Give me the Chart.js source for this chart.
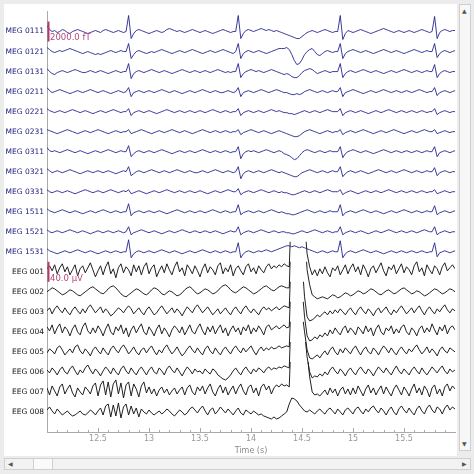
<!DOCTYPE html>
<html><head><meta charset="utf-8">
<script src="https://cdn.jsdelivr.net/npm/chart.js@4/dist/chart.umd.min.js"></script>
<style>
html,body{margin:0;padding:0;width:474px;height:474px;overflow:hidden;background:#ececec;font-family:"DejaVu Sans",sans-serif}
#wrap{position:absolute;left:4px;top:4px;width:453px;height:452px;background:#fff}
#wrap canvas{display:block}
.vs{position:absolute;left:459px;top:4px;width:12px;height:447px;background:#f7f7f7;border:1px solid #cfcfcf;box-sizing:border-box}
.hs{position:absolute;left:4px;top:458px;width:467px;height:12px;background:#f2f2f2;border:1px solid #cfcfcf;box-sizing:border-box}
.th{position:absolute;left:28px;top:0px;width:18px;height:10px;background:#fafafa;border-left:1px solid #cfcfcf;border-right:1px solid #cfcfcf}
.ar{position:absolute;font-size:6px;color:#555;line-height:6px}
</style>
</head><body>
<div id="wrap"><canvas id="c" width="453" height="452"></canvas></div>
<div class="vs"><div class="ar" style="left:2px;top:3px">&#9650;</div><div class="ar" style="left:2px;top:436px">&#9660;</div></div>
<div class="hs"><div class="ar" style="left:3px;top:2px">&#9664;</div><div class="th"></div><div class="ar" style="left:457px;top:2px">&#9654;</div></div>
<script>
// sample grid (s)
const times = [];
for (let j = 0; j < 161; j++) times.push(+(12 + 0.025 * j).toFixed(3));
const xTicks = [12.5, 13, 13.5, 14, 14.5, 15, 15.5];

const channelNames = ['MEG 0111','MEG 0121','MEG 0131','MEG 0211','MEG 0221','MEG 0231','MEG 0311','MEG 0321','MEG 0331','MEG 1511','MEG 1521','MEG 1531','EEG 001','EEG 002','EEG 003','EEG 004','EEG 005','EEG 006','EEG 007','EEG 008'];

// MEG, fT
const meg0111 = [600,200,0,100,-100,0,200,100,-100,-200,0,100,200,100,0,-100,-200,-100,0,100,
0,-100,100,200,100,0,-100,0,100,0,-100,0,1600,-700,-200,100,200,100,0,-100,
-200,-100,0,100,0,-100,0,200,300,200,100,0,100,0,-100,0,100,200,100,0,
-100,0,100,0,-100,-200,-100,0,100,200,100,0,-100,0,0,1600,-700,-200,100,200,
100,0,100,200,300,200,100,200,100,0,100,0,-100,-200,-300,-400,-500,-600,-700,-700,
-500,-300,-100,0,100,0,-100,0,100,200,100,0,-100,0,0,1600,-800,-200,100,0,
-100,0,100,200,100,0,-100,-200,-100,0,100,200,300,200,100,0,-100,0,100,0,
-100,0,100,0,-100,0,100,200,100,0,-100,0,1500,-700,-100,100,200,100,0,100,
100];
const meg0121 = [400,200,0,-100,0,100,0,100,200,300,200,100,0,-100,-200,-100,0,-100,-200,-300,
-200,-300,-200,-100,0,100,0,-100,0,100,0,0,800,-700,-300,0,100,0,-100,-200,
-100,0,-100,0,100,200,100,0,-100,-200,-100,0,100,0,-100,0,100,200,100,0,
-100,-200,-100,0,100,0,-100,0,100,200,100,0,-100,-200,0,800,-700,-200,0,100,
0,-100,0,100,0,-100,-200,-100,0,100,200,300,300,300,400,200,-300,-900,-1300,-1200,
-800,-300,0,200,300,0,-300,-400,-200,0,100,0,-100,0,0,800,-700,-200,0,100,
200,100,0,-100,0,100,0,-100,-200,-100,0,100,200,100,0,-100,0,100,0,-100,
-200,-100,0,100,200,100,0,-100,0,100,0,0,800,-600,-200,0,100,0,-100,0,
100];
const meg0131 = [300,0,-200,-300,-100,0,100,0,-100,0,100,200,100,0,-100,-100,0,100,0,-100,
0,100,0,-100,-200,-100,0,100,0,-100,0,0,800,-700,-200,0,100,0,-100,0,
100,200,100,0,-100,0,100,0,-100,-200,-100,0,100,200,100,0,-100,0,100,0,
-100,0,100,0,-100,0,100,200,100,0,-100,0,-100,0,0,800,-600,-200,0,100,
200,100,0,100,0,-100,0,100,200,100,0,-100,-200,-300,-200,-300,-500,-600,-600,-400,
-100,100,200,300,200,0,-200,-100,0,100,0,-100,0,0,0,800,-600,-200,0,100,
0,-100,0,100,200,100,0,-100,0,100,0,-100,-200,-100,0,100,0,-100,0,100,
200,100,0,-100,0,100,0,-100,0,100,0,0,700,-600,-200,0,100,0,-100,0,
0];
const meg0211 = [400,100,-100,0,100,200,100,0,-100,-200,-100,0,100,0,-100,0,100,200,100,0,
-100,0,100,0,-100,-200,-100,0,100,0,-100,0,400,-500,-100,0,100,0,-100,0,
100,0,-100,0,100,200,100,0,-100,0,100,0,-100,-200,-100,0,100,0,-100,0,
100,200,100,0,-100,0,100,0,-100,-100,0,100,0,-100,0,400,-500,-100,0,100,
0,-100,0,100,200,100,0,-100,0,100,200,100,0,-100,-100,-200,-300,-300,-200,-300,
-200,0,100,200,100,0,-100,0,100,0,-100,0,100,0,0,400,-500,-100,0,100,
200,100,0,-100,-200,-100,0,100,0,-100,0,100,200,100,0,-100,0,100,0,-100,
0,100,0,-100,0,100,200,100,0,-100,0,0,400,-400,-100,0,100,0,-100,0,
100];
const meg0221 = [300,100,0,-100,0,100,0,-100,0,100,200,100,0,-100,0,100,0,-100,-200,-100,
0,100,0,-100,0,100,200,100,0,-100,0,0,300,-400,-100,0,100,0,-100,0,
100,0,-100,-200,-100,0,100,200,100,0,-100,0,100,0,-100,0,100,0,-100,0,
100,0,-100,0,100,200,100,0,-100,0,100,0,-100,0,0,300,-400,-100,0,100,
0,-100,0,100,0,-100,0,100,200,100,0,100,0,-100,-100,-200,-200,-300,-200,-100,
0,100,0,-100,0,100,0,-100,0,100,200,100,0,0,0,300,-400,-100,0,100,
0,-100,0,100,0,-100,-200,-100,0,100,0,-100,0,100,200,100,0,-100,0,100,
0,-100,0,100,0,-100,0,100,0,-100,0,0,300,-300,-100,0,100,0,-100,0,
0];
const meg0231 = [200,100,0,-100,-200,-100,0,100,200,100,0,-100,-200,-100,0,100,0,-100,0,100,
200,100,0,-100,-200,-100,0,100,0,-100,0,0,200,-200,-100,0,100,200,100,0,
-100,-200,-100,0,100,0,-100,0,100,200,100,0,-100,0,100,0,-100,-200,-100,0,
100,200,100,0,-100,0,100,0,-100,0,100,0,-100,0,0,200,-300,-100,0,100,
200,100,0,-100,0,100,0,-100,-200,-100,0,100,0,-100,-200,-300,-400,-500,-500,-400,
-200,0,100,200,100,0,-100,-200,-100,0,100,0,-100,0,0,200,-300,-100,0,100,
0,-100,0,100,200,100,0,-100,-200,-100,0,100,0,-100,0,100,200,100,0,-100,
-200,-100,0,100,0,-100,0,100,200,100,0,0,200,-200,-100,0,100,0,-100,0,
0];
const meg0311 = [400,100,0,100,0,-100,0,100,200,100,0,-100,0,100,0,-100,-200,-100,0,100,
0,-100,0,100,200,100,0,-100,0,100,0,0,600,-500,-200,0,100,0,-100,0,
100,0,-100,0,100,200,100,0,-100,-200,-100,0,100,0,-100,0,100,0,-100,0,
100,200,100,0,-100,0,100,0,-100,0,100,0,-100,0,0,500,-700,-200,0,100,
0,100,0,-100,0,100,200,100,0,-100,0,100,0,-200,-300,-400,-600,-800,-700,-400,
-100,100,200,100,0,-100,0,100,0,-100,0,100,0,0,0,500,-600,-200,0,100,
200,100,0,-100,0,100,0,-100,-200,-100,0,100,200,100,0,-100,0,100,0,-100,
0,100,0,-100,0,100,0,-100,0,100,0,0,500,-500,-100,0,100,0,-100,0,
100];
const meg0321 = [300,100,-100,0,100,0,-100,0,100,200,100,0,-100,-200,-100,0,100,0,-100,0,
100,0,-100,0,100,0,-100,-200,-100,0,100,0,500,-400,-200,0,100,0,-100,0,
100,200,100,0,-100,0,100,0,-100,0,100,200,100,0,-100,0,100,0,-100,-100,
0,100,0,-100,0,100,200,100,0,-100,0,100,0,-100,0,500,-700,-200,0,100,
0,-100,0,100,0,-100,0,100,200,100,0,-100,0,-100,-200,-300,-400,-500,-500,-300,
-100,0,100,200,100,0,-100,0,100,0,-100,0,100,0,0,500,-500,-200,0,100,
0,-100,0,100,0,-100,-200,-100,0,100,200,100,0,-100,0,100,0,-100,0,100,
200,100,0,-100,0,100,0,-100,0,100,0,0,400,-400,-100,0,100,0,-100,0,
0];
const meg0331 = [200,0,-100,0,100,0,-100,0,100,0,-100,-200,-100,0,100,200,100,0,-100,0,
100,0,-100,0,100,200,100,0,-100,0,100,0,200,-200,-100,0,100,0,-100,-200,
-100,0,100,0,-100,0,100,200,100,0,-100,0,100,0,-100,0,100,0,-100,0,
100,0,-100,-200,-100,0,100,0,-100,0,100,200,100,0,0,300,-300,-100,0,100,
0,-100,0,100,200,100,0,-100,0,100,0,-100,0,-100,-100,-200,-300,-300,-200,-100,
0,100,0,-100,0,100,0,-100,0,100,200,100,0,0,0,200,-300,-100,0,100,
0,-100,-200,-100,0,100,0,-100,0,100,0,-100,0,100,200,100,0,-100,0,100,
0,-100,0,100,0,-100,0,100,0,-100,0,0,200,-200,-100,0,100,0,-100,0,
0];
const meg1511 = [300,100,0,-100,0,100,200,100,0,-100,0,100,0,-100,-200,-100,0,100,0,-100,
0,100,200,100,0,-100,0,100,0,-100,0,0,800,-400,-100,0,100,0,-100,0,
100,0,-100,0,100,0,-100,-200,-100,0,100,200,100,0,-100,0,100,0,-100,0,
100,0,-100,0,100,200,100,0,-100,0,100,0,-100,0,0,700,-300,-100,0,100,
0,-100,0,100,0,-100,0,100,200,100,0,-100,0,-100,-200,-200,-300,-300,-200,-100,
0,100,200,100,0,-100,0,100,0,-100,0,100,0,0,0,700,-400,-100,0,100,
0,-100,0,100,200,100,0,-100,0,100,0,-100,-200,-100,0,100,0,-100,0,100,
200,100,0,-100,0,100,0,-100,0,100,0,0,600,-300,-100,0,100,0,-100,0,
100];
const meg1521 = [200,0,-100,0,100,0,-100,0,100,200,100,0,-100,0,100,0,-100,-200,-100,0,
100,0,-100,0,100,0,-100,0,100,0,-100,0,500,-300,-100,0,100,200,100,0,
-100,0,100,0,-100,-200,-100,0,100,0,-100,0,100,200,100,0,-100,0,100,0,
-100,0,100,0,-100,0,100,0,-100,-200,-100,0,100,0,0,500,-300,-100,0,100,
0,-100,0,100,200,100,0,-100,0,100,0,-100,0,0,-100,-100,-200,-200,-100,0,
100,0,-100,0,100,200,100,0,-100,0,100,0,-100,0,0,500,-300,-100,0,100,
0,-100,0,100,0,-100,-200,-100,0,100,0,-100,0,100,200,100,0,-100,0,100,
0,-100,0,100,0,-100,0,100,200,100,0,0,500,-300,-100,0,100,0,-100,0,
0];
const meg1531 = [300,100,0,-100,-200,-100,0,100,0,-100,0,100,200,100,0,-100,0,100,0,-100,
-200,-100,0,100,0,-100,0,100,0,-100,0,0,1200,-600,-200,0,100,0,-100,0,
100,0,-100,0,100,200,100,0,-100,0,100,0,-100,-200,-100,0,100,0,-100,0,
100,200,100,0,-100,0,100,0,-100,0,100,0,-100,0,0,900,-600,-200,0,100,
0,-100,0,100,0,100,200,100,0,100,200,300,400,500,600,600,500,600,500,400,
500,400,300,200,100,0,-100,0,100,0,-100,0,100,0,0,1100,-600,-200,0,100,
0,-100,0,100,200,100,0,-100,0,100,0,-100,-200,-100,0,100,0,-100,0,100,
0,-100,0,100,0,-100,0,100,0,-100,0,0,900,-500,-100,0,100,0,-100,0,
100];

// EEG, µV
const eeg001 = [6,12,2,14,-4,8,16,0,10,-6,4,14,-8,6,12,-2,8,18,4,-10,
2,12,-6,10,20,-4,6,-12,8,16,-2,10,4,-8,14,0,12,-6,10,18,
-4,8,14,-10,2,12,-2,16,4,-6,10,20,0,8,-8,14,6,-4,12,2,
-10,6,16,-2,10,4,-6,12,18,-4,8,0,14,-8,6,12,2,-6,10,16,
0,8,-4,12,4,-2,10,16,6,12,8,14,10,16,12,10,150,160,160,150,
130,100,36,10,-6,4,-8,6,-4,10,-2,-10,8,2,12,-6,4,14,-4,8,
16,0,10,-6,14,4,-10,6,12,-2,8,18,2,-8,10,4,14,-4,6,16,
-2,10,4,-6,12,20,0,8,-8,14,4,-4,12,6,-6,10,18,2,8,14,
6];
const eeg002 = [0,4,8,6,2,-2,-6,-4,0,4,2,-2,-6,-8,-4,0,4,8,10,6,
2,-2,-4,0,6,10,12,8,2,-4,-8,-10,-6,-2,2,6,4,0,-4,-6,
-2,4,8,6,2,-4,-6,-2,2,0,-4,-8,-6,-2,4,8,10,6,0,-4,
-2,2,6,4,0,-4,-2,2,8,12,14,10,4,0,-2,2,6,10,8,4,
0,-4,-2,2,6,10,12,8,4,2,6,10,12,10,8,8,160,170,170,160,
140,120,44,14,-6,-10,-14,-12,-10,-12,-14,-10,-6,-8,-12,-10,-6,-2,-4,-8,
-6,-2,2,0,-4,-2,2,6,4,0,-4,-6,-2,2,4,0,-4,-2,2,6,
8,4,0,-4,-2,2,0,-4,-8,-6,-2,2,6,4,0,-4,-2,2,6,4,
0];
const eeg003 = [2,8,-4,6,12,4,-2,8,0,-6,4,10,2,-4,6,-2,8,14,6,-2,
4,10,-2,6,0,-8,-4,2,8,4,-2,6,12,6,-4,2,8,0,-6,4,
10,2,-6,-2,6,12,4,-4,2,8,-2,6,0,-8,2,10,4,-2,8,14,
6,-2,4,10,2,-6,0,6,-4,2,8,0,-6,4,10,2,-4,6,12,4,
-2,6,0,-6,4,10,4,8,2,6,10,4,8,12,10,8,150,160,160,150,
100,30,-10,-18,-16,-12,-6,-10,-4,0,-6,2,-4,4,-2,6,0,-6,2,8,
0,-6,4,10,2,-4,6,0,-8,2,8,-2,4,10,0,-6,4,-2,6,12,
4,-4,2,8,-2,6,12,2,-6,4,10,2,-4,6,0,8,14,4,-2,6,
2];
const eeg004 = [10,2,14,-4,8,16,-2,10,4,-8,6,14,0,-6,10,18,2,-4,8,-2,
12,4,-8,6,16,0,-6,10,2,14,-4,8,-10,4,12,-2,8,16,0,-6,
10,2,-8,6,14,-4,8,0,-10,4,12,6,-2,10,-6,4,14,0,-4,8,
16,2,-6,10,0,12,-4,6,14,-2,8,-8,4,12,0,8,-6,10,2,14,
-4,8,0,12,4,-6,10,14,4,8,12,6,10,14,8,10,150,160,160,150,
90,30,-8,-18,-16,-10,-14,-6,-10,-2,-8,4,-4,8,0,-6,6,12,-2,8,
2,-6,10,4,-4,12,0,8,-8,6,14,0,-6,8,2,12,-4,6,-2,10,
14,0,-6,8,2,-8,6,12,-2,8,0,16,4,-6,10,2,14,-4,8,12,
4];
const eeg005 = [-2,6,2,-4,8,12,4,-6,0,6,-2,10,14,2,-4,6,0,-8,4,10,
2,-4,8,0,-6,6,12,4,-2,8,14,6,-4,2,10,0,-6,4,8,-2,
6,12,2,-6,4,-2,8,14,4,-4,2,10,0,-8,-2,6,12,4,-2,8,
0,-6,6,12,2,-4,8,0,-6,4,10,2,-4,6,12,4,-2,8,0,6,
12,2,-6,4,10,2,8,4,10,6,8,12,8,10,12,10,140,150,150,140,
80,40,4,-12,-14,-10,-6,-12,-4,2,-6,4,10,0,-6,6,-2,8,2,-4,
6,12,2,-6,4,10,0,-4,8,2,-6,4,12,6,-2,8,0,-6,4,10,
2,-4,6,0,8,14,4,-4,2,10,-2,6,0,-8,4,10,2,-2,8,4,
0];
const eeg006 = [4,-2,8,2,-6,4,10,0,-4,6,12,2,-6,4,-2,8,14,4,-4,6,
0,-8,2,10,4,-4,8,0,-6,6,12,2,-4,8,0,-6,4,10,2,-6,
4,10,0,-4,8,2,-6,6,12,4,-2,8,0,-8,2,10,4,-4,6,0,
2,-4,6,0,-4,6,2,-6,-10,-14,-16,-12,-6,2,8,0,-6,4,10,2,
-4,6,0,8,4,-2,6,10,4,8,6,10,8,12,10,8,150,160,160,150,
140,80,30,0,-12,-8,-10,-4,-8,0,-6,4,10,2,-4,6,0,-8,2,8,
0,-6,4,10,2,-4,6,0,-8,2,10,4,-2,8,0,-6,4,12,2,-4,
6,0,-6,4,10,2,-4,8,0,-6,2,10,4,-2,6,12,2,-4,6,0,
4];
const eeg007 = [8,-6,12,2,-8,10,16,-4,6,14,-2,-10,8,0,-6,10,4,-4,12,18,
-8,14,22,-6,20,-10,16,24,-4,18,-12,14,20,-8,16,6,-10,12,20,-2,
10,-4,6,-8,4,10,-2,6,-6,2,8,-4,4,10,-6,8,14,0,-6,10,
2,12,-4,8,16,0,-8,6,14,-2,10,-6,4,12,-4,8,16,2,-6,10,
14,-2,8,-8,10,16,4,12,-4,8,14,10,16,12,14,10,150,160,160,150,
150,140,80,30,0,-6,-4,-8,-2,4,-6,8,-2,6,-8,4,10,-4,6,-6,
8,-4,12,2,-8,6,14,-2,8,-6,4,12,-4,10,0,-8,6,14,4,-6,
10,2,-8,6,16,-2,8,-6,12,4,-10,8,14,-4,6,-8,10,16,2,12,
6];
const eeg008 = [4,10,2,-4,6,0,-6,-2,2,-4,-8,-6,-2,2,-4,-6,-2,4,0,-6,
2,8,-6,12,16,-10,14,-8,18,-12,10,16,-6,12,-4,8,-10,6,0,-4,
4,-2,-6,-2,2,-4,0,6,2,-4,-8,-2,4,0,-6,-2,6,10,4,-2,
6,12,2,-6,4,8,-4,2,10,4,-2,6,0,-6,2,8,-2,-6,4,0,
-4,2,-2,-6,-4,-8,-10,-12,-14,-10,-14,-12,-8,-4,0,16,28,26,22,14,
8,2,0,4,0,-4,2,6,0,-4,4,8,2,-4,6,0,-6,4,8,2,
-4,6,10,2,-4,6,0,8,12,4,-2,8,2,-6,4,10,0,-6,6,12,
4,-2,8,0,-6,6,12,2,-4,8,14,4,-2,10,6,-4,8,14,4,10,
6];

const series = [meg0111,meg0121,meg0131,meg0211,meg0221,meg0231,meg0311,meg0321,meg0331,meg1511,meg1521,meg1531,
                eeg001,eeg002,eeg003,eeg004,eeg005,eeg006,eeg007,eeg008];
const MEG_SCALE = 2000;  // fT per channel spacing
const EEG_SCALE = 40;    // µV per channel spacing
const MEG_COLOR = '#24248e', EEG_COLOR = '#151515';

const datasets = series.map((vals, i) => {
  const isMeg = i < 12;
  const sc = isMeg ? MEG_SCALE : EEG_SCALE;
  const off = i + 1;
  return {
    label: channelNames[i],
    off: off,
    data: times.map((t, j) => ({x: t, y: off - vals[j] / sc})),
    borderColor: isMeg ? MEG_COLOR : EEG_COLOR,
    borderWidth: isMeg ? 0.9 : 0.95,
    pointRadius: 0,
    tension: 0,
    fill: false
  };
});

const clipPlugin = {
  id: 'bandClip',
  beforeDatasetDraw(chart, args) {
    const ds = chart.data.datasets[args.index];
    const y = chart.scales.y, a = chart.chartArea;
    const t = y.getPixelForValue(ds.off - 1.5), b = y.getPixelForValue(ds.off + 1.5);
    const ctx = chart.ctx;
    ctx.save();
    ctx.beginPath();
    ctx.rect(a.left, Math.max(a.top, t), a.right - a.left, Math.min(a.bottom, b) - Math.max(a.top, t));
    ctx.clip();
  },
  afterDatasetDraw(chart) { chart.ctx.restore(); }
};

const decoPlugin = {
  id: 'deco',
  afterDraw(chart) {
    const ctx = chart.ctx, x = chart.scales.x, y = chart.scales.y, a = chart.chartArea;
    ctx.save();
    // inward ticks on time axis
    ctx.strokeStyle = '#aaaaaa'; ctx.lineWidth = 1;
    for (let k = 121; k < 160; k++) {
      const v = k / 10;
      const px = Math.round(x.getPixelForValue(v)) + 0.5;
      const major = k % 5 === 0;
      ctx.beginPath(); ctx.moveTo(px, a.bottom); ctx.lineTo(px, a.bottom - (major ? 4 : 2)); ctx.stroke();
    }
    // scale bars
    const bars = [{row: 1, text: '2000.0 fT'}, {row: 13, text: '40.0 µV'}];
    bars.forEach(b => {
      const top = y.getPixelForValue(b.row - 0.5), bot = y.getPixelForValue(b.row + 0.5);
      ctx.strokeStyle = '#b03a6e'; ctx.lineWidth = 2;
      ctx.beginPath(); ctx.moveTo(a.left + 1.5, top); ctx.lineTo(a.left + 1.5, bot); ctx.stroke();
      ctx.fillStyle = '#b5487c';
      ctx.font = '8.5px "DejaVu Sans"';
      ctx.textBaseline = 'bottom'; ctx.textAlign = 'left';
      ctx.fillText(b.text, a.left + 3, bot + 1);
    });
    ctx.restore();
  }
};

new Chart(document.getElementById('c'), {
  type: 'line',
  data: {datasets},
  options: {
    responsive: false,
    animation: false,
    events: [],
    layout: {padding: {top: 2, right: 2, left: 0, bottom: 0}},
    plugins: {legend: {display: false}, tooltip: {enabled: false}},
    scales: {
      x: {
        type: 'linear', min: 12, max: 16,
        afterFit(s) { s.height = 24; },
        afterBuildTicks(s) { s.ticks = xTicks.map(v => ({value: v})); },
        grid: {display: false, drawTicks: false},
        border: {display: true, color: '#aaaaaa', width: 1},
        ticks: {color: '#999999', font: {family: 'DejaVu Sans', size: 8}, padding: 2, maxRotation: 0,
                callback: v => String(v)},
        title: {display: true, text: 'Time (s)', color: '#8a8a8a', font: {family: 'DejaVu Sans', size: 8}, padding: {top: 1, bottom: 0}}
      },
      y: {
        type: 'linear', min: 0, max: 21, reverse: true,
        afterFit(s) { s.width = 43; },
        afterBuildTicks(s) { s.ticks = channelNames.map((n, i) => ({value: i + 1})); },
        grid: {display: false, drawTicks: false},
        border: {display: true, color: '#aaaaaa', width: 1},
        ticks: {
          font: {family: 'DejaVu Sans', size: 7.5}, padding: 3,
          color: c => (c.index < 12 ? '#1a1a78' : '#111111'),
          callback: (v) => channelNames[v - 1]
        }
      }
    }
  },
  plugins: [clipPlugin, decoPlugin]
});
</script>
</body></html>
